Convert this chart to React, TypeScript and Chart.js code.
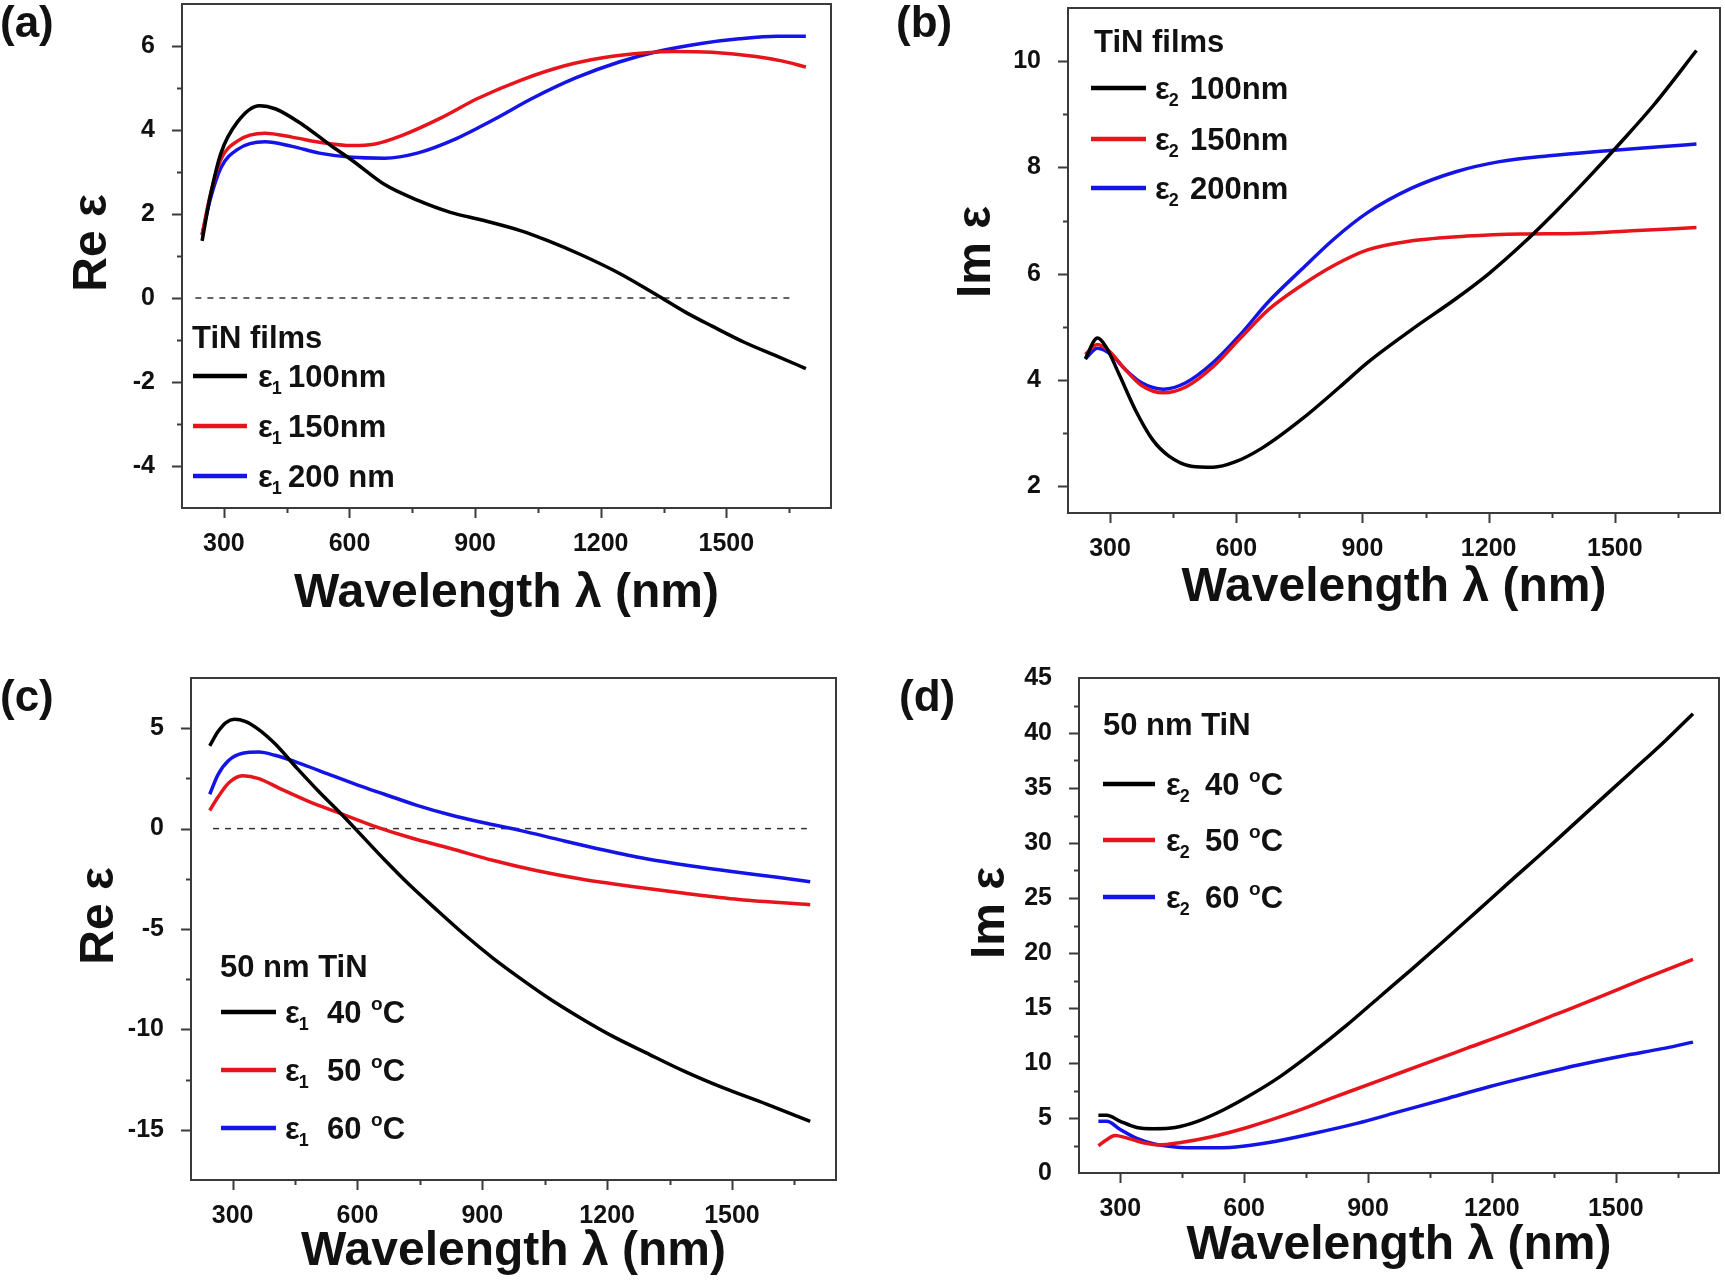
import React, { useEffect, useRef } from "react";
import { Chart, registerables } from "chart.js";

Chart.register(...registerables);

// ---------------- DATA ----------------
// Panel (a): Re ε of TiN films (ε1)
const A_100_X = [248, 267, 293, 333, 385, 424, 489, 554, 606, 684, 762, 841, 919, 1010, 1075, 1153, 1244, 1336, 1401, 1466, 1544, 1622, 1690];
const A_100_Y = [1.36, 2.4, 3.45, 4.2, 4.58, 4.5, 4.12, 3.64, 3.28, 2.7, 2.33, 2.04, 1.85, 1.6, 1.36, 1.03, 0.59, 0.06, -0.33, -0.67, -1.06, -1.39, -1.68];
const A_150_X = [248, 267, 293, 333, 398, 463, 528, 606, 658, 723, 815, 906, 1010, 1114, 1205, 1310, 1375, 1466, 1570, 1635, 1690];
const A_150_Y = [1.51, 2.43, 3.3, 3.74, 3.92, 3.83, 3.71, 3.63, 3.66, 3.86, 4.27, 4.75, 5.19, 5.53, 5.72, 5.84, 5.87, 5.85, 5.75, 5.64, 5.5];
const A_200_X = [248, 267, 293, 333, 398, 463, 528, 606, 684, 762, 854, 945, 1036, 1140, 1244, 1336, 1440, 1531, 1622, 1690];
const A_200_Y = [1.5, 2.33, 3.1, 3.54, 3.72, 3.61, 3.45, 3.35, 3.33, 3.45, 3.79, 4.25, 4.75, 5.24, 5.62, 5.87, 6.06, 6.17, 6.23, 6.23];
const A_ZERO_X = [232, 1660];
const A_ZERO_Y = [0, 0];
const A_LABELS = ["100nm", "150nm", "200 nm"];

// Panel (b): Im ε of TiN films (ε2)
const B_100_X = [241, 270, 290, 322, 362, 401, 440, 493, 545, 597, 663, 755, 846, 912, 1017, 1122, 1200, 1279, 1357, 1436, 1515, 1593, 1694];
const B_100_Y = [4.4, 4.79, 4.63, 4.1, 3.41, 2.88, 2.57, 2.38, 2.36, 2.46, 2.73, 3.26, 3.87, 4.33, 4.95, 5.53, 6.0, 6.55, 7.15, 7.8, 8.48, 9.18, 10.2];
const B_150_X = [241, 270, 296, 335, 375, 427, 480, 545, 610, 676, 755, 833, 912, 1017, 1148, 1279, 1410, 1541, 1694];
const B_150_Y = [4.48, 4.67, 4.56, 4.21, 3.9, 3.76, 3.87, 4.25, 4.79, 5.32, 5.78, 6.16, 6.45, 6.62, 6.71, 6.75, 6.76, 6.81, 6.87];
const B_200_X = [241, 270, 303, 335, 375, 427, 480, 545, 610, 676, 755, 833, 912, 1017, 1122, 1226, 1344, 1475, 1607, 1694];
const B_200_Y = [4.4, 4.6, 4.48, 4.21, 3.95, 3.83, 3.95, 4.33, 4.86, 5.47, 6.08, 6.66, 7.15, 7.61, 7.92, 8.11, 8.22, 8.31, 8.39, 8.44];
const B_LABELS = ["100nm", "150nm", "200nm"];

// Panel (c): Re ε of 50 nm TiN at deposition temperatures (ε1)
const C_40_X = [245, 265, 284, 304, 330, 363, 402, 455, 507, 560, 599, 665, 730, 796, 861, 927, 993, 1058, 1137, 1215, 1294, 1386, 1478, 1583, 1688];
const C_40_Y = [4.12, 4.83, 5.28, 5.44, 5.34, 4.93, 4.22, 3.0, 1.85, 0.75, -0.1, -1.55, -2.9, -4.15, -5.35, -6.47, -7.48, -8.42, -9.44, -10.36, -11.17, -12.09, -12.9, -13.72, -14.58];
const C_50_X = [245, 265, 291, 324, 363, 415, 481, 560, 638, 730, 822, 927, 1032, 1137, 1255, 1386, 1517, 1688];
const C_50_Y = [0.9, 1.57, 2.28, 2.63, 2.49, 1.98, 1.37, 0.75, 0.14, -0.47, -0.98, -1.59, -2.1, -2.51, -2.87, -3.22, -3.53, -3.79];
const C_60_X = [245, 265, 291, 324, 363, 402, 468, 533, 599, 665, 743, 822, 901, 993, 1084, 1189, 1294, 1399, 1504, 1609, 1688];
const C_60_Y = [1.71, 2.69, 3.4, 3.75, 3.81, 3.65, 3.2, 2.69, 2.18, 1.71, 1.16, 0.69, 0.3, -0.1, -0.55, -1.05, -1.5, -1.85, -2.15, -2.42, -2.65];
const C_ZERO_X = [253, 1680];
const C_ZERO_Y = [0, 0];
const C_LABELS = ["40 ^oC", "50 ^oC", "60 ^oC"];

// Panel (d): Im ε of 50 nm TiN at deposition temperatures (ε2)
const D_40_X = [247, 267, 300, 340, 380, 433, 487, 553, 607, 687, 767, 847, 927, 1007, 1087, 1167, 1247, 1340, 1433, 1540, 1620, 1687];
const D_40_Y = [5.25, 5.25, 4.7, 4.14, 4.03, 4.14, 4.7, 5.8, 6.9, 8.76, 10.98, 13.39, 15.98, 18.56, 21.2, 23.9, 26.6, 29.7, 32.9, 36.55, 39.3, 41.75];
const D_50_X = [247, 267, 287, 313, 353, 393, 447, 513, 607, 713, 820, 927, 1033, 1140, 1247, 1353, 1460, 1567, 1687];
const D_50_Y = [2.48, 3.03, 3.4, 3.22, 2.77, 2.55, 2.77, 3.22, 4.14, 5.44, 6.92, 8.4, 9.87, 11.35, 12.83, 14.39, 15.98, 17.64, 19.42];
const D_60_X = [247, 267, 300, 340, 380, 433, 500, 580, 660, 767, 873, 980, 1087, 1193, 1300, 1407, 1513, 1620, 1687];
const D_60_Y = [4.7, 4.7, 3.96, 3.14, 2.66, 2.37, 2.29, 2.37, 2.77, 3.59, 4.51, 5.62, 6.73, 7.84, 8.85, 9.8, 10.62, 11.35, 11.9];
const D_LABELS = ["40 ^oC", "50 ^oC", "60 ^oC"];

const X_MIN = 200;
const X_MAX = 1750;
const X_MAJOR = 300;
const X_MINOR = 150;

// ---------------- STYLE ----------------
const FONT = '"Liberation Sans", Arial, Helvetica, sans-serif';
const BLACK = "#000000";
const RED = "#e8141c";
const BLUE = "#1414e6";
const FRAME = "#3a3a3a";
const TEXT = "#111111";

type Series = { label: string; xs: number[]; ys: number[]; color: string };
type Panel = {
  key: string;
  tag: string;
  tagPos: [number, number];
  rect: { x: number; y: number; w: number; h: number };
  area: { l: number; t: number; r: number; b: number };
  yMin: number;
  yMax: number;
  yMinor: number;
  yMajor: number;
  yTitle: string;
  yTitlePos: [number, number];
  xTitleCenterY: number;
  series: Series[];
  zero?: { xs: number[]; ys: number[] };
  legend: {
    title: string;
    titleX: number;
    titleY: number;
    lineX1: number;
    lineX2: number;
    textX: number;
    restOffset: number;
    sub: string;
    rows: number[];
    labels: string[];
  };
};

const PANELS: Panel[] = [
  {
    key: "a",
    tag: "(a)",
    tagPos: [0, 37],
    rect: { x: 0, y: 0, w: 862, h: 640 },
    area: { l: 182, t: 4, r: 831, b: 508 },
    yMin: -5,
    yMax: 7,
    yMinor: 1,
    yMajor: 2,
    yTitle: "Re ε",
    yTitlePos: [93, 243],
    xTitleCenterY: 594,
    series: [
      { label: "ε₁ 100nm", xs: A_100_X, ys: A_100_Y, color: BLACK },
      { label: "ε₁ 150nm", xs: A_150_X, ys: A_150_Y, color: RED },
      { label: "ε₁ 200 nm", xs: A_200_X, ys: A_200_Y, color: BLUE },
    ],
    zero: { xs: A_ZERO_X, ys: A_ZERO_Y },
    legend: { title: "TiN films", titleX: 192, titleY: 337, lineX1: 193, lineX2: 247, textX: 258, restOffset: 30, sub: "1", rows: [376, 426, 476], labels: A_LABELS },
  },
  {
    key: "b",
    tag: "(b)",
    tagPos: [896, 37],
    rect: { x: 862, y: 0, w: 863, h: 640 },
    area: { l: 1068, t: 8, r: 1720, b: 513 },
    yMin: 1.5,
    yMax: 11,
    yMinor: 1,
    yMajor: 2,
    yTitle: "Im ε",
    yTitlePos: [977, 252],
    xTitleCenterY: 588,
    series: [
      { label: "ε₂ 100nm", xs: B_100_X, ys: B_100_Y, color: BLACK },
      { label: "ε₂ 150nm", xs: B_150_X, ys: B_150_Y, color: RED },
      { label: "ε₂ 200nm", xs: B_200_X, ys: B_200_Y, color: BLUE },
    ],
    legend: { title: "TiN films", titleX: 1094, titleY: 41, lineX1: 1091, lineX2: 1146, textX: 1155, restOffset: 35, sub: "2", rows: [88, 139, 188], labels: B_LABELS },
  },
  {
    key: "c",
    tag: "(c)",
    tagPos: [0, 711],
    rect: { x: 0, y: 640, w: 862, h: 640 },
    area: { l: 191, t: 678, r: 836, b: 1180 },
    yMin: -17.5,
    yMax: 7.5,
    yMinor: 2.5,
    yMajor: 5,
    yTitle: "Re ε",
    yTitlePos: [100, 916],
    xTitleCenterY: 1252,
    series: [
      { label: "ε₁ 40 °C", xs: C_40_X, ys: C_40_Y, color: BLACK },
      { label: "ε₁ 50 °C", xs: C_50_X, ys: C_50_Y, color: RED },
      { label: "ε₁ 60 °C", xs: C_60_X, ys: C_60_Y, color: BLUE },
    ],
    zero: { xs: C_ZERO_X, ys: C_ZERO_Y },
    legend: { title: "50 nm TiN", titleX: 220, titleY: 966, lineX1: 221, lineX2: 276, textX: 285, restOffset: 42, sub: "1", rows: [1012, 1070, 1128], labels: C_LABELS },
  },
  {
    key: "d",
    tag: "(d)",
    tagPos: [899, 711],
    rect: { x: 862, y: 640, w: 863, h: 640 },
    area: { l: 1079, t: 678, r: 1719, b: 1173 },
    yMin: 0,
    yMax: 45,
    yMinor: 2.5,
    yMajor: 5,
    yTitle: "Im ε",
    yTitlePos: [991, 913],
    xTitleCenterY: 1246,
    series: [
      { label: "ε₂ 40 °C", xs: D_40_X, ys: D_40_Y, color: BLACK },
      { label: "ε₂ 50 °C", xs: D_50_X, ys: D_50_Y, color: RED },
      { label: "ε₂ 60 °C", xs: D_60_X, ys: D_60_Y, color: BLUE },
    ],
    legend: { title: "50 nm TiN", titleX: 1103, titleY: 724, lineX1: 1103, lineX2: 1155, textX: 1166, restOffset: 39, sub: "2", rows: [784, 840, 897], labels: D_LABELS },
  },
];

function isMultiple(v: number, step: number) {
  const r = Math.abs(v / step - Math.round(v / step));
  return r < 1e-6;
}

function drawRich(ctx: CanvasRenderingContext2D, text: string, x: number, baseline: number, size: number) {
  let cx = x;
  let run = "";
  const flush = () => {
    if (!run) return;
    ctx.font = `bold ${size}px ${FONT}`;
    ctx.fillText(run, cx, baseline);
    cx += ctx.measureText(run).width;
    run = "";
  };
  for (let i = 0; i < text.length; i++) {
    const ch = text[i];
    if (ch === "^" && i + 1 < text.length) {
      flush();
      const c = text[++i];
      const s = Math.round(size * 0.6);
      ctx.font = `bold ${s}px ${FONT}`;
      ctx.fillText(c, cx + 1, baseline - size * 0.42);
      cx += ctx.measureText(c).width + 1;
    } else {
      run += ch;
    }
  }
  flush();
}

function makeOverlay(p: Panel) {
  const ox = p.rect.x;
  const oy = p.rect.y;
  return {
    id: "overlay_" + p.key,
    afterDraw(chart: any) {
      const ctx: CanvasRenderingContext2D = chart.ctx;
      const a = chart.chartArea;
      const xs = chart.scales.x;
      const ys = chart.scales.y;
      ctx.save();
      // frame
      ctx.strokeStyle = FRAME;
      ctx.lineWidth = 2;
      ctx.strokeRect(a.left, a.top, a.right - a.left, a.bottom - a.top);
      // x ticks
      for (const t of xs.ticks) {
        const v = t.value;
        if (v <= X_MIN || v >= X_MAX) continue;
        if (!isMultiple(v, X_MINOR)) continue;
        const len = isMultiple(v, X_MAJOR) ? 10 : 5;
        const px = Math.round(xs.getPixelForValue(v)) + 0.5;
        ctx.beginPath();
        ctx.moveTo(px, a.bottom);
        ctx.lineTo(px, a.bottom + len);
        ctx.stroke();
      }
      // y ticks
      for (const t of ys.ticks) {
        const v = t.value;
        if (v <= p.yMin || v >= p.yMax) continue;
        if (!isMultiple(v, p.yMinor)) continue;
        const len = isMultiple(v, p.yMajor) ? 10 : 5;
        const py = Math.round(ys.getPixelForValue(v)) + 0.5;
        ctx.beginPath();
        ctx.moveTo(a.left, py);
        ctx.lineTo(a.left - len, py);
        ctx.stroke();
      }
      // y title
      ctx.fillStyle = TEXT;
      ctx.save();
      ctx.translate(p.yTitlePos[0] - ox, p.yTitlePos[1] - oy);
      ctx.rotate(-Math.PI / 2);
      ctx.textAlign = "center";
      ctx.textBaseline = "middle";
      ctx.font = `bold 48px ${FONT}`;
      ctx.fillText(p.yTitle, 0, 0);
      ctx.restore();
      // panel tag
      ctx.textAlign = "left";
      ctx.textBaseline = "alphabetic";
      ctx.font = `bold 44px ${FONT}`;
      ctx.fillText(p.tag, p.tagPos[0] - ox, p.tagPos[1] - oy);
      // legend
      const L = p.legend;
      const size = 31;
      ctx.font = `bold ${size}px ${FONT}`;
      ctx.fillText(L.title, L.titleX - ox, L.titleY - oy + size * 0.358);
      L.rows.forEach((ry, i) => {
        const s = p.series[i];
        const y = ry - oy;
        ctx.strokeStyle = s.color;
        ctx.lineWidth = 4.5;
        ctx.beginPath();
        ctx.moveTo(L.lineX1 - ox, y);
        ctx.lineTo(L.lineX2 - ox, y);
        ctx.stroke();
        ctx.fillStyle = TEXT;
        const base = y + size * 0.358;
        const tx = L.textX - ox;
        ctx.font = `bold ${size}px ${FONT}`;
        ctx.fillText("ε", tx, base);
        const ew = ctx.measureText("ε").width;
        ctx.font = `bold 18px ${FONT}`;
        ctx.fillText(L.sub, tx + ew - 1, base + 7);
        drawRich(ctx, L.labels[i], tx + L.restOffset, base, size);
      });
      ctx.restore();
    },
  };
}

function PanelChart({ p }: { p: Panel }) {
  const ref = useRef<HTMLCanvasElement | null>(null);
  useEffect(() => {
    if (!ref.current) return;
    const datasets: any[] = p.series.map((s) => ({
      label: s.label,
      data: s.xs.map((x, i) => ({ x, y: s.ys[i] })),
      borderColor: s.color,
      backgroundColor: s.color,
      borderWidth: 3.5,
      pointRadius: 0,
      cubicInterpolationMode: "monotone",
      fill: false,
    }));
    if (p.zero) {
      const z = p.zero;
      datasets.push({
        label: "ε = 0",
        data: z.xs.map((x, i) => ({ x, y: z.ys[i] })),
        borderColor: "#333333",
        borderWidth: 1.5,
        borderDash: [6, 6],
        pointRadius: 0,
        fill: false,
      });
    }
    const xHeight = p.rect.y + p.rect.h - p.area.b;
    const yWidth = p.area.l - p.rect.x;
    const titlePadBottom = p.rect.y + p.rect.h - p.xTitleCenterY - 24;
    const chart = new Chart(ref.current, {
      type: "line",
      data: { datasets },
      options: {
        responsive: false,
        maintainAspectRatio: false,
        animation: false,
        layout: {
          padding: { left: 0, top: p.area.t - p.rect.y, right: p.rect.x + p.rect.w - p.area.r, bottom: 0 },
        },
        plugins: { legend: { display: false }, tooltip: { enabled: false } },
        scales: {
          x: {
            type: "linear",
            min: X_MIN,
            max: X_MAX,
            afterFit: (s: any) => {
              s.height = xHeight;
              s.paddingLeft = 0;
              s.paddingRight = 0;
              s.paddingTop = 0;
              s.paddingBottom = 0;
            },
            grid: { display: false },
            border: { display: false },
            ticks: {
              stepSize: X_MINOR,
              includeBounds: false,
              autoSkip: false,
              maxRotation: 0,
              minRotation: 0,
              padding: 13,
              color: TEXT,
              font: { family: FONT, size: 25, weight: "bold" },
              callback: (v: any) => (isMultiple(Number(v), X_MAJOR) ? String(v) : ""),
            },
            title: {
              display: true,
              text: "Wavelength λ (nm)",
              color: TEXT,
              font: { family: FONT, size: 48, weight: "bold", lineHeight: 1 },
              padding: { top: 0, bottom: titlePadBottom },
            },
          },
          y: {
            type: "linear",
            min: p.yMin,
            max: p.yMax,
            afterFit: (s: any) => {
              s.width = yWidth;
              s.paddingLeft = 0;
              s.paddingRight = 0;
              s.paddingTop = 0;
              s.paddingBottom = 0;
            },
            grid: { display: false },
            border: { display: false },
            ticks: {
              stepSize: p.yMinor,
              includeBounds: false,
              autoSkip: false,
              padding: 19,
              color: TEXT,
              font: { family: FONT, size: 25, weight: "bold" },
              callback: (v: any) => (isMultiple(Number(v), p.yMajor) ? String(v) : ""),
            },
          },
        },
      } as any,
      plugins: [makeOverlay(p)],
    });
    return () => chart.destroy();
  }, [p]);
  return (
    <canvas
      ref={ref}
      width={p.rect.w}
      height={p.rect.h}
      style={{ position: "absolute", left: p.rect.x, top: p.rect.y, width: p.rect.w, height: p.rect.h }}
    />
  );
}

export default function App() {
  return (
    <div style={{ position: "absolute", left: 0, top: 0, width: 1725, height: 1280, background: "#ffffff", overflow: "hidden" }}>
      {PANELS.map((p) => (
        <PanelChart key={p.key} p={p} />
      ))}
    </div>
  );
}
